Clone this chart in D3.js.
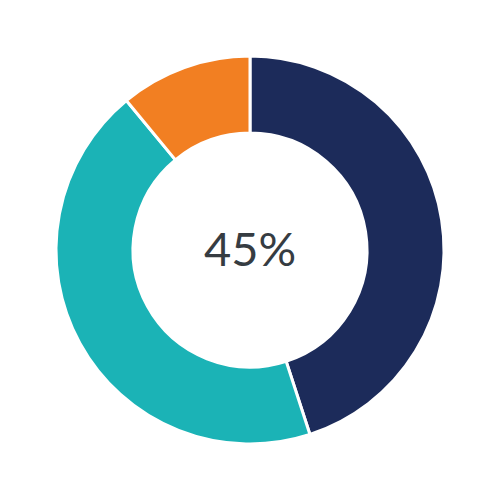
<!DOCTYPE html>
<html>
<head>
<meta charset="utf-8">
<script src="https://cdn.jsdelivr.net/npm/d3@7"></script>
<style>
  body { margin: 0; background: #fff; }
</style>
</head>
<body>
<div id="chart"></div>
<script>
const labels = ['A', 'B', 'C'];
const values = [45, 44, 11];
const colors = ['#1c2b5a', '#1bb3b6', '#f27f22'];
const centerLabel = '45%';

const width = 500;
const height = 500;
const outerR = 194;
const innerR = 117;

const svg = d3.select('#chart')
  .append('svg')
  .attr('width', width)
  .attr('height', height)
  .append('g')
  .attr('transform', `translate(${width / 2}, ${height / 2})`);

const pie = d3.pie().sort(null).value(d => d);
const arc = d3.arc().innerRadius(innerR).outerRadius(outerR);
const color = d3.scaleOrdinal().domain(labels).range(colors);

svg.selectAll('path')
  .data(pie(values))
  .enter()
  .append('path')
  .attr('d', arc)
  .attr('fill', (d, i) => color(labels[i]))
  .attr('stroke', '#fff')
  .attr('stroke-width', 3);

svg.append('text')
  .attr('text-anchor', 'middle')
  .attr('dy', '0.35em')
  .style('font-family', 'Lato, sans-serif')
  .style('font-weight', 400)
  .style('font-size', '47px')
  .attr('fill', '#363c42')
  .text(centerLabel);
</script>
</body>
</html>
